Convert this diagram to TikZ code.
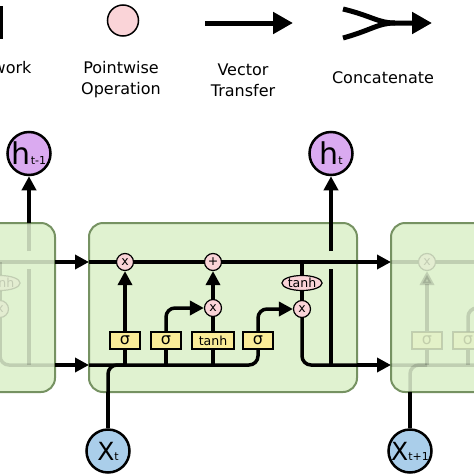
\documentclass[tikz,border=0pt]{standalone}
\usepackage{fontspec}
\setmainfont{DejaVu Sans}
\usetikzlibrary{arrows.meta,shapes.geometric}

\definecolor{cellgreen}{RGB}{224,242,208}
\definecolor{cellborder}{RGB}{118,146,98}
\definecolor{layeryellow}{RGB}{250,236,152}
\definecolor{oppink}{RGB}{250,212,216}
\definecolor{hpurple}{RGB}{218,170,240}
\definecolor{xblue}{RGB}{170,206,234}

\newcommand{\lstmcell}[1]{%
  \coordinate (#1cin) at (89,262);
  \coordinate (#1cout) at (357,262);
  \coordinate (#1hin) at (89,365);
  \coordinate (#1hout) at (357,365);
  \coordinate (#1tap) at (302,262);
  \coordinate (#1hj) at (331,365);
  \coordinate (#1gapb) at (331,269);
  \coordinate (#1gapt) at (331,251);
  \coordinate (#1top) at (331,223);
  \coordinate (#1bot) at (108,392);

  \node[op] (#1fx) at (125,262) {x};
  \node[op] (#1add) at (213,262) {+};
  \node[op] (#1ix) at (213,308) {x};
  \node[op] (#1ox) at (302,309) {x};
  \node[optanh] (#1ct) at (302,283) {tanh};
  \node[layerbox,sigmafont] (#1fg) at (125,340.5) {σ};
  \node[layerbox,sigmafont] (#1ig) at (166,340.5) {σ};
  \node[layerbox,minimum width=42pt] (#1cg) at (213,340.5) {tanh};
  \node[layerbox,sigmafont] (#1og) at (258,340.5) {σ};

  \draw[flow] (#1cin) -- (#1fx);
  \draw[flow] (#1fx) -- (#1add);
  \draw[flow] (#1add) -- (#1cout);
  \draw[vec] (#1fg) -- (#1fx);
  \draw[vec,rounded corners=9pt] (#1ig.north) |- (#1ix);
  \draw[flow] (#1cg) -- (#1ix);
  \draw[vec] (#1ix) -- (#1add);
  \draw[vec,rounded corners=9pt] (#1og.north) |- (#1ox);
  \draw[flow] (#1tap) -- (#1ct);
  \draw[flow] (#1ct) -- (#1ox);
  \draw[flow,rounded corners=9pt] (#1ox) |- (#1hout);
  \draw[flow] (#1hj) -- (#1gapb);
  \draw[flow] (#1gapt) -- (#1top);
  \draw[flow,rounded corners=9pt] (#1hin) -| (#1og.south);
  \draw[flow] (#1fg.south) -- (#1fg.south |- #1hin);
  \draw[flow] (#1ig.south) -- (#1ig.south |- #1hin);
  \draw[flow] (#1cg.south) -- (#1cg.south |- #1hin);
  \draw[flow,rounded corners=9pt] (#1bot) |- (#1fg.south |- #1hin);
}

\begin{document}
\begin{tikzpicture}
  [x=1pt,y=-1pt,
   flow/.style={line width=3.5pt},
   vec/.style={flow,-{Triangle[length=14pt,width=14pt]}},
   bigvec/.style={line width=5pt,-{Triangle[length=20pt,width=21pt]}},
   cellbox/.style={fill=cellgreen,draw=cellborder,line width=2pt,rounded corners=14pt},
   layerbox/.style={draw,line width=1.2pt,fill=layeryellow,minimum height=17pt,minimum width=30pt,inner sep=0pt,font=\fontsize{12.5}{12.5}\selectfont},
   sigmafont/.style={font=\fontsize{16}{16}\selectfont},
   op/.style={draw,circle,line width=1.2pt,fill=oppink,minimum size=17pt,inner sep=0pt,font=\fontsize{12.5}{12.5}\selectfont},
   optanh/.style={draw,ellipse,line width=1.2pt,fill=oppink,minimum width=40pt,minimum height=15pt,inner sep=0pt,font=\fontsize{12.5}{12.5}\selectfont},
   state/.style={draw,circle,line width=2.5pt,minimum size=43pt,inner sep=0pt},
   legendtext/.style={align=center,font=\fontsize{16}{21}\selectfont}]

  \clip (0,0) rectangle (474,474);

  % legend
  \node[draw,fill=layeryellow,line width=2.5pt,minimum width=42pt,minimum height=31pt] (lglayer) at (-19.5,22.5) {};
  \node[legendtext,anchor=base east] (lglayertxt) at (35,73.5) {work};
  \node[op,minimum size=31pt,line width=1.5pt] (lgop) at (123,20.5) {};
  \node[legendtext] (lgoptxt) at (121,80) {Pointwise\\Operation};
  \coordinate (lgva) at (205,23);
  \coordinate (lgvb) at (293,23);
  \draw[bigvec] (lgva) -- (lgvb);
  \node[legendtext] (lgvtxt) at (243,80) {Vector\\Transfer};
  \coordinate (lgca) at (343,9);
  \coordinate (lgcb) at (343,38);
  \coordinate (lgcm) at (395,23);
  \coordinate (lgcc) at (432,23);
  \draw[bigvec] (lgca) .. controls (372,16) and (378,23) .. (lgcm) -- (lgcc);
  \draw[line width=5pt] (lgcb) .. controls (372,30) and (378,23) .. (lgcm);
  \node[legendtext,anchor=base] (lgctxt) at (383,83.5) {Concatenate};

  % cells
  \foreach \s in {-302,0,302}
    \draw[cellbox] (89+\s,223) rectangle (357+\s,392);

  \lstmcell{M}
  \begin{scope}[xshift=-302pt,opacity=0.14]
    \lstmcell{L}
  \end{scope}
  \begin{scope}[xshift=302pt,opacity=0.14]
    \lstmcell{R}
  \end{scope}

  % inputs and outputs
  \node[state,fill=hpurple] (hprev) at (29,153.5) {{\fontsize{30}{30}\selectfont h}{\fontsize{11}{11}\selectfont t-1}};
  \node[state,fill=hpurple] (hcur) at (331,153.5) {{\fontsize{30}{30}\selectfont h}{\fontsize{11}{11}\selectfont t}};
  \node[state,fill=xblue] (xcur) at (108,451) {{\fontsize{25}{25}\selectfont X}{\fontsize{11}{11}\selectfont t}};
  \node[state,fill=xblue] (xnext) at (410,451) {{\fontsize{25}{25}\selectfont X}{\fontsize{11}{11}\selectfont t+1}};

  \draw[vec] (Lcout) -- (Mcin);
  \draw[vec] (Lhout) -- (Mhin);
  \draw[vec] (Mcout) -- (Rcin);
  \draw[vec] (Mhout) -- (Rhin);
  \draw[vec] (Ltop) -- (hprev);
  \draw[vec] (Mtop) -- (hcur);
  \draw[flow] (xcur) -- (Mbot);
  \draw[flow] (xnext) -- (Rbot);
\end{tikzpicture}
\end{document}
